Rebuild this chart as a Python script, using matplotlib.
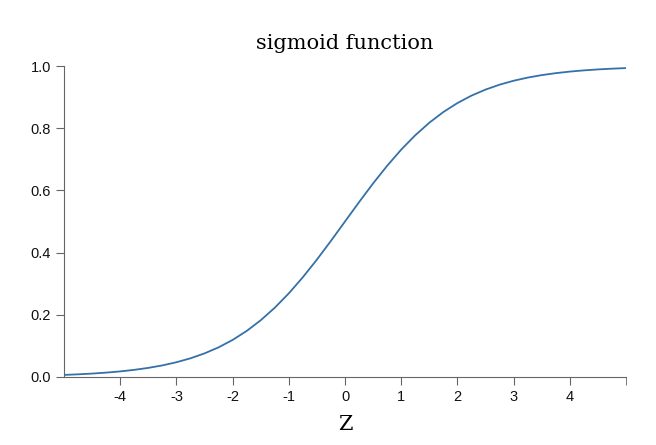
import matplotlib
matplotlib.use("Agg")
import matplotlib.pyplot as plt

# Values
z_vals = [-5.0, -4.75, -4.5, -4.25, -4.0, -3.75, -3.5, -3.25, -3.0, -2.75, -2.5, -2.25,
          -2.0, -1.75, -1.5, -1.25, -1.0, -0.75, -0.5, -0.25, 0.0, 0.25, 0.5, 0.75,
          1.0, 1.25, 1.5, 1.75, 2.0, 2.25, 2.5, 2.75, 3.0, 3.25, 3.5, 3.75, 4.0, 4.25,
          4.5, 4.75, 5.0]
s_vals = [0.0067, 0.0086, 0.0110, 0.0141, 0.0180, 0.0230, 0.0293, 0.0373, 0.0474, 0.0601,
          0.0759, 0.0953, 0.1192, 0.1480, 0.1824, 0.2227, 0.2689, 0.3208, 0.3775, 0.4378,
          0.5000, 0.5622, 0.6225, 0.6792, 0.7311, 0.7773, 0.8176, 0.8520, 0.8808, 0.9047,
          0.9241, 0.9399, 0.9526, 0.9627, 0.9707, 0.9770, 0.9820, 0.9859, 0.9890, 0.9914,
          0.9933]
x_ticks = [-4, -3, -2, -1, 0, 1, 2, 3, 4]
y_ticks = [0.0, 0.2, 0.4, 0.6, 0.8, 1.0]

fig = plt.figure(figsize=(6.56, 4.45), dpi=100)
ax = fig.add_axes([64 / 656, 1 - 377 / 445, 562 / 656, 311 / 445])

ax.plot(z_vals, s_vals, color="#3471a8", linewidth=1.3)
ax.set_xlim(-5, 5)
ax.set_ylim(0, 1)

ax.set_xticks(x_ticks)
ax.set_xticklabels([str(t) for t in x_ticks], family="Liberation Sans")
ax.set_xticks([5], minor=True)
ax.set_yticks(y_ticks)
ax.set_yticklabels([f"{t:.1f}" for t in y_ticks], family="Liberation Sans")
ax.tick_params(which="both", direction="out", length=6, color="#666666",
               labelsize=10.5, labelcolor="#111111")

for side in ["top", "right"]:
    ax.spines[side].set_visible(False)
for side in ["left", "bottom"]:
    ax.spines[side].set_color("#666666")

ax.set_title("sigmoid function", family="DejaVu Serif", fontsize=15, pad=12)
ax.set_xlabel("Z", family="DejaVu Serif", fontsize=15, labelpad=8)

fig.savefig("out.png", dpi=100)
